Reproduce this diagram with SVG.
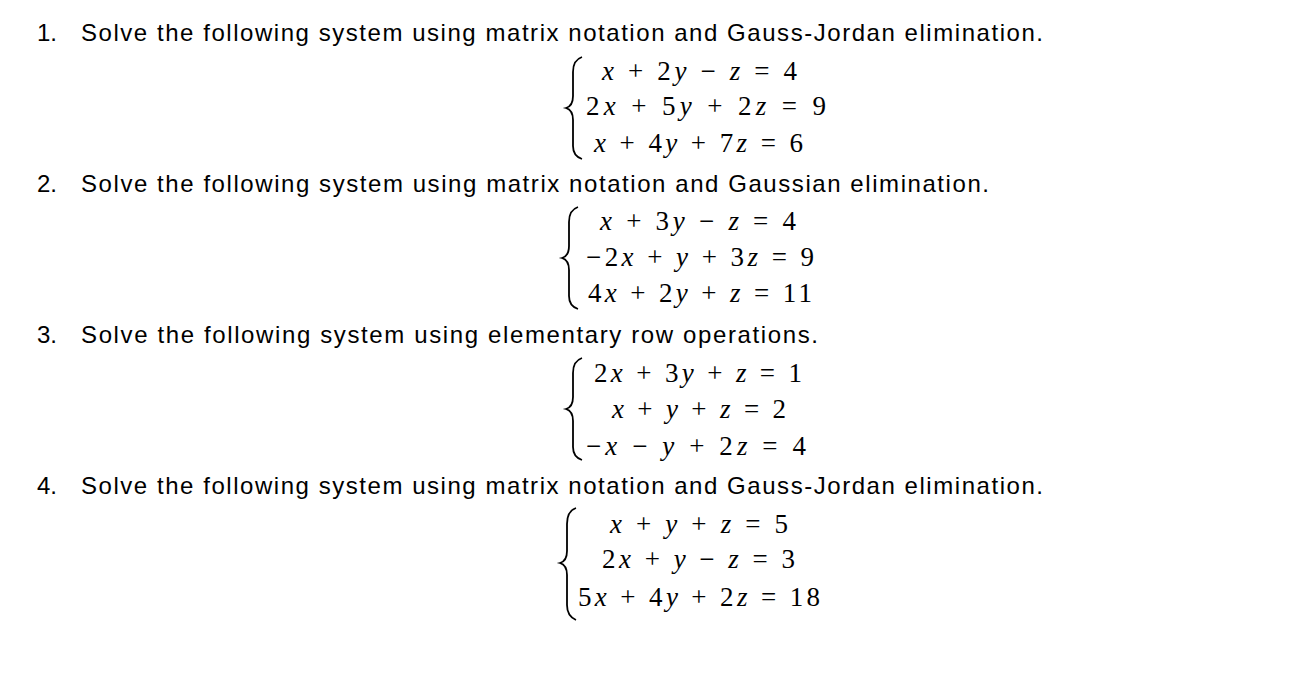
<svg xmlns="http://www.w3.org/2000/svg" width="1307" height="683" viewBox="0 0 1307 683">
<style>
.h{font-family:"Liberation Sans",Arial,sans-serif;font-size:24px;fill:#000}
.m{font-family:"Liberation Serif","DejaVu Serif",serif;font-size:27px;fill:#000}
.m tspan.v{font-style:italic}
.b{fill:none;stroke:#000;stroke-width:1.8}
</style>
<rect width="1307" height="683" fill="#fff"/>
<text class="h" x="37" y="41">1.</text><text class="h" x="81" y="41" textLength="962">Solve the following system using matrix notation and Gauss-Jordan elimination.</text>
<text class="h" x="37" y="192">2.</text><text class="h" x="81" y="192" textLength="908">Solve the following system using matrix notation and Gaussian elimination.</text>
<text class="h" x="37" y="343">3.</text><text class="h" x="81" y="343" textLength="737">Solve the following system using elementary row operations.</text>
<text class="h" x="37" y="494">4.</text><text class="h" x="81" y="494" textLength="962">Solve the following system using matrix notation and Gauss-Jordan elimination.</text>

<path class="b" d="M582,57 Q573,60 573,72 L573,96 Q573,106 566,108 Q573,110 573,120 L573,146 Q573,156 582,159"/>
<text class="m" x="602" y="80" textLength="195"><tspan class="v">x</tspan> + 2<tspan class="v">y</tspan> − <tspan class="v">z</tspan> = 4</text>
<text class="m" x="586" y="115" textLength="240">2<tspan class="v">x</tspan> + 5<tspan class="v">y</tspan> + 2<tspan class="v">z</tspan> = 9</text>
<text class="m" x="594" y="152" textLength="209"><tspan class="v">x</tspan> + 4<tspan class="v">y</tspan> + 7<tspan class="v">z</tspan> = 6</text>

<path class="b" d="M578,207 Q569,210 569,222 L569,246 Q569,256 562,258 Q569,260 569,270 L569,296 Q569,306 578,309"/>
<text class="m" x="600" y="230" textLength="196"><tspan class="v">x</tspan> + 3<tspan class="v">y</tspan> − <tspan class="v">z</tspan> = 4</text>
<text class="m" x="586" y="266" textLength="228">−2<tspan class="v">x</tspan> + <tspan class="v">y</tspan> + 3<tspan class="v">z</tspan> = 9</text>
<text class="m" x="588" y="302" textLength="224">4<tspan class="v">x</tspan> + 2<tspan class="v">y</tspan> + <tspan class="v">z</tspan> = 11</text>

<path class="b" d="M582,358 Q573,361 573,373 L573,397 Q573,407 566,409 Q573,411 573,421 L573,447 Q573,457 582,460"/>
<text class="m" x="594" y="382" textLength="208">2<tspan class="v">x</tspan> + 3<tspan class="v">y</tspan> + <tspan class="v">z</tspan> = 1</text>
<text class="m" x="612" y="418" textLength="174"><tspan class="v">x</tspan> + <tspan class="v">y</tspan> + <tspan class="v">z</tspan> = 2</text>
<text class="m" x="586" y="455" textLength="220">−<tspan class="v">x</tspan> − <tspan class="v">y</tspan> + 2<tspan class="v">z</tspan> = 4</text>

<path class="b" d="M576,508 Q567,511 567,524 L567,551 Q567,561 560,563 Q567,565 567,575 L567,605 Q567,616 576,620"/>
<text class="m" x="610" y="533" textLength="178"><tspan class="v">x</tspan> + <tspan class="v">y</tspan> + <tspan class="v">z</tspan> = 5</text>
<text class="m" x="602" y="568" textLength="193">2<tspan class="v">x</tspan> + <tspan class="v">y</tspan> − <tspan class="v">z</tspan> = 3</text>
<text class="m" x="578" y="606" textLength="242">5<tspan class="v">x</tspan> + 4<tspan class="v">y</tspan> + 2<tspan class="v">z</tspan> = 18</text>
</svg>
